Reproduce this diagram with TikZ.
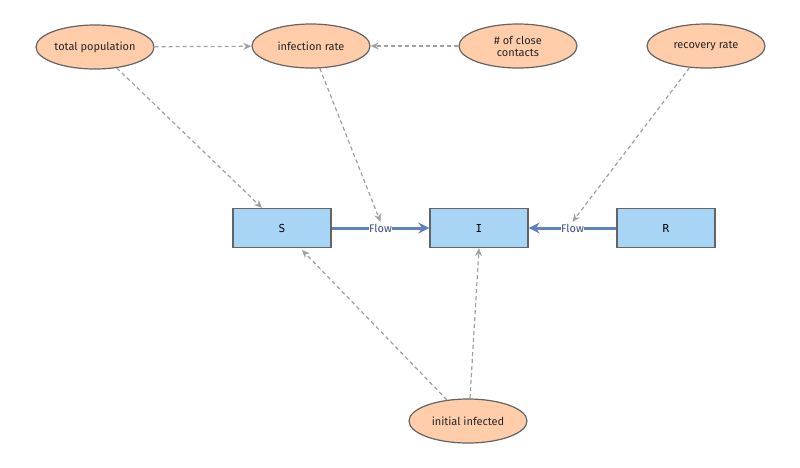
\documentclass[tikz,border=0pt]{standalone}
\usepackage{fontspec}
\setmainfont{Fira Sans}
\setmonofont{DejaVu Sans Mono}
\usetikzlibrary{shapes.geometric,arrows.meta}
\definecolor{ellf}{RGB}{255,205,170}
\definecolor{recf}{RGB}{168,212,246}
\definecolor{bord}{RGB}{100,100,100}
\definecolor{flowc}{RGB}{96,128,192}
\definecolor{flowt}{RGB}{60,80,130}
\definecolor{dash}{RGB}{160,160,160}
\begin{document}
\begin{tikzpicture}[x=1pt,y=-1pt,
 ell/.style={ellipse,draw=bord,fill=ellf,line width=1.2pt,minimum width=118pt,minimum height=44pt,inner sep=0pt,font=\fontsize{11}{12}\selectfont,align=center,text=black!85},
 box/.style={rectangle,draw=bord,fill=recf,line width=1.2pt,minimum width=98pt,minimum height=39pt,font=\ttfamily\fontsize{11}{12}\selectfont},
 dep/.style={draw=dash,line width=1.2pt,dash pattern=on 4pt off 3pt,-{Stealth[length=8pt,width=7pt]}},
 flow/.style={draw=flowc,line width=3pt,-{Stealth[length=11pt,width=11pt]}},
 flab/.style={fill=white,inner sep=0.5pt,text=flowt,font=\fontsize{11}{12}\selectfont}]
\useasboundingbox (0,0) rectangle (800,467);
\node[ell] (tp) at (95,47) {total population};
\node[ell] (ir) at (311,46) {infection rate};
\node[ell] (cc) at (518,46) {\# of close\\contacts};
\node[ell] (rr) at (706,46) {recovery rate};
\node[ell] (ii) at (468,421) {initial infected};
\node[box] (S) at (282,228) {S};
\node[box] (I) at (479,228) {I};
\node[box] (R) at (666,228) {R};
\draw[flow] (S) -- node[flab,pos=0.5] (f1) {Flow} (I);
\draw[flow] (R) -- node[flab,pos=0.5] (f2) {Flow} (I);
\draw[dep] (tp) -- (ir);
\draw[dep] (cc) -- (ir);
\draw[dep] (tp) -- (S.north west -| 262,209);
\draw[dep] (ir) -- (f1.north);
\draw[dep] (rr) -- (f2.north);
\draw[dep] (ii.135) -- (302,250);
\draw[dep] (ii) ++(2,-23) -- (I.south);
\end{tikzpicture}
\end{document}
